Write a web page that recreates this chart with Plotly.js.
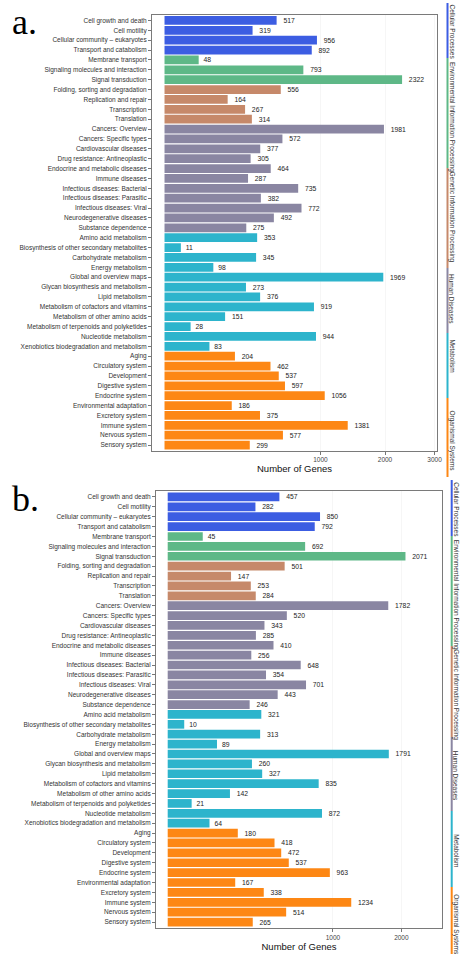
<!DOCTYPE html>
<html>
<head>
<meta charset="utf-8">
<script src="https://cdn.plot.ly/plotly-3.0.1.min.js"></script>
<style>
  html, body { margin: 0; padding: 0; background: #fff; }
  .panel { position: absolute; left: 0; width: 474px; height: 477px; overflow: hidden; }
</style>
</head>
<body>
<div id="panelA" class="panel" style="top:0px"></div>
<div id="panelB" class="panel" style="top:477px"></div>
<script>
// ---------------- DATA ----------------
const categories = [
  "Cell growth and death", "Cell motility", "Cellular community \u2013 eukaryotes", "Transport and catabolism",
  "Membrane transport", "Signaling molecules and interaction", "Signal transduction",
  "Folding, sorting and degradation", "Replication and repair", "Transcription", "Translation",
  "Cancers: Overview", "Cancers: Specific types", "Cardiovascular diseases", "Drug resistance: Antineoplastic",
  "Endocrine and metabolic diseases", "Immune diseases", "Infectious diseases: Bacterial",
  "Infectious diseases: Parasitic", "Infectious diseases: Viral", "Neurodegenerative diseases", "Substance dependence",
  "Amino acid metabolism", "Biosynthesis of other secondary metabolites", "Carbohydrate metabolism",
  "Energy metabolism", "Global and overview maps", "Glycan biosynthesis and metabolism", "Lipid metabolism",
  "Metabolism of cofactors and vitamins", "Metabolism of other amino acids",
  "Metabolism of terpenoids and polyketides", "Nucleotide metabolism", "Xenobiotics biodegradation and metabolism",
  "Aging", "Circulatory system", "Development", "Digestive system", "Endocrine system",
  "Environmental adaptation", "Excretory system", "Immune system", "Nervous system", "Sensory system"
];
const valuesA = [517, 319, 956, 892, 48, 793, 2322, 556, 164, 267, 314, 1981, 572, 377, 305, 464, 287, 735, 382, 772, 492, 275,
  353, 11, 345, 98, 1969, 273, 376, 919, 151, 28, 944, 83, 204, 462, 537, 597, 1056, 186, 375, 1381, 577, 299];
const valuesB = [457, 282, 850, 792, 45, 692, 2071, 501, 147, 253, 284, 1782, 520, 343, 285, 410, 256, 648, 354, 701, 443, 246,
  321, 10, 313, 89, 1791, 260, 327, 835, 142, 21, 872, 64, 180, 418, 472, 537, 963, 167, 338, 1234, 514, 265];
const groupNames = ["Cellular Processes", "Environmental Information Processing", "Genetic Information Processing",
  "Human Diseases", "Metabolism", "Organismal Systems"];
const groupSizes = [4, 3, 4, 11, 12, 10];
const tickValuesA = [1000, 2000, 3000];
const tickValuesB = [1000, 2000];
const panelLabels = ["a.", "b."];
const xTitle = "Number of Genes";

// ---------------- STYLE ----------------
const groupColors = ["#3c5de2", "#5eb887", "#c6896a", "#8a86a2", "#2db4cc", "#fd8714"];
const FONT = "Liberation Sans, Arial, Helvetica, sans-serif";
const W = 474, H = 477;

const panelCfg = [
  { id: "panelA", values: valuesA, ticks: tickValuesA, label: panelLabels[0],
    xDom: [152, 437], yDom: [15, 450.5], xRange: [-2.54, 55.27], yRange: [43.55, -0.55],
    stripX: 447.5, stripTextX: 452, stripBounds: [3, 58, 168, 268, 333, 398, 477],
    stripTextTop: [2, 60, 169, 272, 337, 408] },
  { id: "panelB", values: valuesB, ticks: tickValuesB, label: panelLabels[1],
    xDom: [156, 442], yDom: [14, 451], xRange: [-2.24, 52.5], yRange: [43.6, -0.6],
    stripX: 451.7, stripTextX: 456.2, stripBounds: [3, 59, 169, 260, 334, 410, 477],
    stripTextTop: [3, 61, 170, 272, 355, 415] }
];

const barColors = [];
groupSizes.forEach((n, gi) => { for (let i = 0; i < n; i++) barColors.push(groupColors[gi]); });

function py(px) { return 1 - px / H; }

panelCfg.forEach(cfg => {
  const trace = {
    type: "bar",
    orientation: "h",
    y: categories,
    x: cfg.values.map(v => Math.sqrt(v)),   // sqrt-scaled axis, as in the reference
    width: 0.88,
    marker: { color: barColors, line: { width: 0 } },
    text: cfg.values.map(v => "\u00a0".repeat(Math.ceil(String(v).length / 2)) + v),
    textposition: "outside",
    constraintext: "none",
    cliponaxis: false,
    textfont: { family: FONT, size: 6.8, color: "#222" },
    hoverinfo: "none"
  };

  const shapes = [];
  const annotations = [];
  for (let g = 0; g < groupNames.length; g++) {
    shapes.push({
      type: "line", xref: "paper", yref: "paper",
      x0: cfg.stripX / W, x1: cfg.stripX / W,
      y0: py(cfg.stripBounds[g]), y1: py(cfg.stripBounds[g + 1]),
      line: { color: groupColors[g], width: 2 }
    });
    annotations.push({
      xref: "paper", yref: "paper", x: cfg.stripTextX / W, y: py(cfg.stripTextTop[g]),
      xanchor: "center", yanchor: "top", textangle: 90, showarrow: false,
      text: groupNames[g], font: { family: FONT, size: 6.5, color: "#333" }
    });
  }
  annotations.push({
    xref: "paper", yref: "paper", x: 10 / W, y: 1.0, xanchor: "left", yanchor: "top",
    showarrow: false, text: cfg.label,
    font: { family: "Liberation Serif, Times New Roman, serif", size: 36, color: "#000" }
  });

  const layout = {
    width: W, height: H,
    margin: { l: 0, r: 0, t: 0, b: 0, pad: 0 },
    paper_bgcolor: "#fff", plot_bgcolor: "#fff",
    showlegend: false,
    font: { family: FONT },
    xaxis: {
      domain: [cfg.xDom[0] / W, cfg.xDom[1] / W],
      range: cfg.xRange,
      tickmode: "array",
      tickvals: cfg.ticks.map(t => Math.sqrt(t)),
      ticktext: cfg.ticks.map(String),
      ticks: "outside", ticklen: 3, tickwidth: 0.8, tickcolor: "#555",
      tickfont: { family: FONT, size: 6.5, color: "#444" },
      showgrid: true, gridcolor: "#f0f0f0", gridwidth: 0.6,
      zeroline: false,
      showline: true, mirror: true, linecolor: "#7a7a7a", linewidth: 1,
      automargin: false,
      title: { text: xTitle, font: { family: FONT, size: 9.5, color: "#111" }, standoff: 2 }
    },
    yaxis: {
      domain: [py(cfg.yDom[1]), py(cfg.yDom[0])],
      type: "category",
      categoryorder: "array", categoryarray: categories,
      range: cfg.yRange,
      ticks: "outside", ticklen: 3, tickwidth: 0.8, tickcolor: "#555",
      tickfont: { family: FONT, size: 6.5, color: "#333" },
      showgrid: false, zeroline: false,
      showline: true, mirror: true, linecolor: "#7a7a7a", linewidth: 1,
      automargin: false
    },
    shapes: shapes,
    annotations: annotations
  };

  Plotly.newPlot(cfg.id, [trace], layout, { staticPlot: true, displayModeBar: false });
});
</script>
</body>
</html>
